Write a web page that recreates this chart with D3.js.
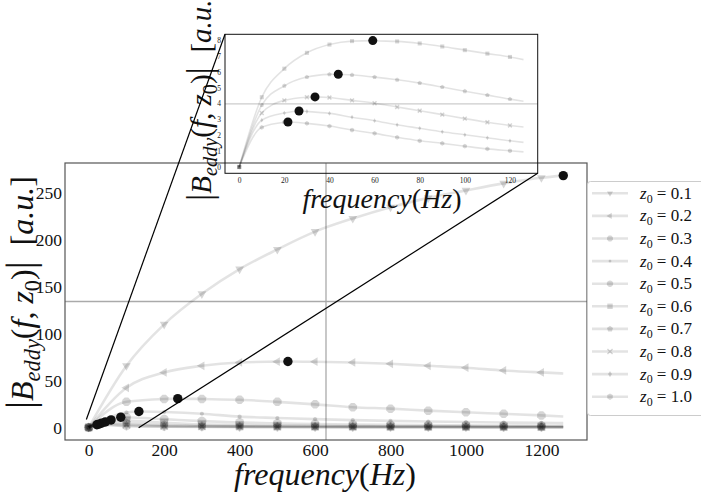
<!DOCTYPE html>
<html>
<head>
<meta charset="utf-8">
<script src="https://cdn.jsdelivr.net/npm/d3@7"></script>
<style>
  body { margin: 0; background: #fff; }
  text { font-family: "Liberation Serif", "DejaVu Serif", serif; }
</style>
</head>
<body>
<div id="chart"></div>
<script>
// Size of the picture
const width = 701;
const height = 492;

// z0 of every series and the marker used for it
const zValues = [0.1, 0.2, 0.3, 0.4, 0.5, 0.6, 0.7, 0.8, 0.9, 1.0];
const markerTypes = ["v", "<", "8", ".", "o", "s", "p", "x", "d", "h"];

// Main plot: frequency grid (Hz) and |B_eddy| for every z0
const freqMain = [0, 100, 200, 300, 400, 500, 600, 700, 800, 900, 1000, 1100, 1200, 1258];
const bMain01 = [0, 65.8, 110, 142.6, 169, 190, 209, 223, 235, 245, 253, 260.5, 266.5, 268.8];
const bMain02 = [0, 42.3, 58.7, 65.8, 69.3, 70.2, 70.1, 69.3, 67.9, 65.8, 63.7, 60.8, 58.7, 57.6];
const bMain03 = [0, 27.3, 30.4, 30.3, 29.5, 27.3, 24.6, 21.6, 20, 17.9, 16.1, 14.5, 12.8, 11.7];
const bMain04 = [0, 16.0, 16.4, 14.6, 11.5, 10.1, 8.8, 7.8, 7.0, 6.3, 5.7, 5.2, 4.8, 4.6];
const bMain05 = [0, 10.8, 8.8, 6.7, 5.2, 4.3, 3.6, 3.1, 2.7, 2.4, 2.2, 2.0, 1.8, 1.75];
const bMain06 = [0, 7.37, 5.0, 3.2, 2.4, 2.0, 1.7, 1.5, 1.3, 1.2, 1.1, 1.0, 0.92, 0.88];
const bMain07 = [0, 4.78, 2.6, 1.75, 1.35, 1.1, 0.95, 0.83, 0.74, 0.67, 0.61, 0.56, 0.52, 0.5];
const bMain08 = [0, 3.05, 1.65, 1.1, 0.85, 0.7, 0.6, 0.52, 0.46, 0.41, 0.37, 0.34, 0.31, 0.3];
const bMain09 = [0, 2.03, 1.05, 0.72, 0.55, 0.45, 0.38, 0.33, 0.29, 0.26, 0.24, 0.22, 0.2, 0.19];
const bMain10 = [0, 1.31, 0.7, 0.48, 0.37, 0.3, 0.25, 0.22, 0.19, 0.17, 0.16, 0.14, 0.13, 0.125];
const peakFreqMain = [1258, 528, 236, 133, 85, 59.2, 43.9, 33.6, 26.5, 21.6];
const peakBMain = [268.8, 70.4, 30.7, 17.0, 10.9, 7.97, 5.85, 4.42, 3.53, 2.84];

// Inset: low frequency zoom, only z0 = 0.6 .. 1.0
const freqZoom = [0, 10, 20, 30, 40, 50, 60, 70, 80, 90, 100, 110, 120, 126];
const bZoom06 = [0, 4.4, 6.2, 7.2, 7.72, 7.94, 7.96, 7.92, 7.79, 7.6, 7.37, 7.15, 6.94, 6.77];
const bZoom07 = [0, 3.9, 5.12, 5.67, 5.84, 5.8, 5.67, 5.5, 5.29, 5.04, 4.78, 4.53, 4.28, 4.15];
const bZoom08 = [0, 3.4, 4.2, 4.4, 4.38, 4.2, 4.02, 3.78, 3.55, 3.3, 3.05, 2.82, 2.62, 2.52];
const bZoom09 = [0, 2.95, 3.4, 3.5, 3.38, 3.14, 2.92, 2.66, 2.44, 2.22, 2.03, 1.84, 1.65, 1.55];
const bZoom10 = [0, 2.5, 2.82, 2.75, 2.58, 2.33, 2.12, 1.87, 1.65, 1.49, 1.31, 1.14, 1.02, 0.95];
const peakFreqZoom = [59.2, 43.9, 33.6, 26.5, 21.6];
const peakBZoom = [7.97, 5.85, 4.42, 3.53, 2.84];

// Tick labels
const xTicksMain = [0, 200, 400, 600, 800, 1000, 1200];
const yTicksMain = [0, 50, 100, 150, 200, 250];
const xTicksZoom = [0, 20, 40, 60, 80, 100, 120];
const yTicksZoom = [0, 1, 2, 3, 4, 5, 6, 7, 8];

const mainSeries = [bMain01, bMain02, bMain03, bMain04, bMain05, bMain06, bMain07, bMain08, bMain09, bMain10];
const zoomSeries = [bZoom06, bZoom07, bZoom08, bZoom09, bZoom10];

const lineColor = "rgba(0,0,0,0.11)";
const markColor = "rgba(0,0,0,0.16)";

const svg = d3.select("#chart")
    .append("svg")
    .attr("width", width)
    .attr("height", height)
    .style("opacity", 0.999); // grey text antialiasing

// matplotlib style 5% margins
function padded(ext) {
    const d = ext[1] - ext[0];
    return [ext[0] - 0.05 * d, ext[1] + 0.05 * d];
}

// marker shapes like matplotlib's
function polygon(n, r, rot) {
    const pts = d3.range(n).map(i => {
        const a = rot + i * 2 * Math.PI / n;
        return [r * Math.cos(a), r * Math.sin(a)];
    });
    return "M" + pts.map(p => p.join(",")).join("L") + "Z";
}
function markerPath(type, r) {
    switch (type) {
        case "v": return polygon(3, r * 1.1, Math.PI / 2);
        case "<": return polygon(3, r * 1.1, Math.PI);
        case "8": return polygon(8, r, Math.PI / 8);
        case ".": return polygon(12, r * 0.45, 0);
        case "o": return polygon(16, r, 0);
        case "s": return `M${-r * 0.85},${-r * 0.85}H${r * 0.85}V${r * 0.85}H${-r * 0.85}Z`;
        case "p": return polygon(5, r, -Math.PI / 2);
        case "x": return `M${-r * 0.8},${-r * 0.8}L${r * 0.8},${r * 0.8}M${-r * 0.8},${r * 0.8}L${r * 0.8},${-r * 0.8}`;
        case "d": return `M0,${-r}L${r * 0.6},0L0,${r}L${-r * 0.6},0Z`;
        case "h": return polygon(6, r, -Math.PI / 2);
    }
}
function drawMarker(g, type, cx, cy, r) {
    const p = g.append("path")
        .attr("d", markerPath(type, r))
        .attr("transform", `translate(${cx},${cy})`);
    if (type === "x") p.attr("fill", "none").attr("stroke", markColor).attr("stroke-width", 1.5);
    else p.attr("fill", markColor);
}

// text with italic / subscript parts, parts = [text, italic, sub, scale]
function mathText(textSel, parts, size) {
    let inSub = false;
    parts.forEach(([t, italic, sub, scale]) => {
        const fs = sub ? size * 0.7 : size * (scale || 1);
        const ts = textSel.append("tspan")
            .text(t)
            .style("font-style", italic ? "italic" : "normal")
            .attr("font-size", fs);
        if (sub && !inSub) ts.attr("dy", size * 0.22);
        if (!sub && inSub) ts.attr("dy", -size * 0.22);
        inSub = sub;
    });
}

// join a grid series with its peak point
function seriesPoints(freqs, values, pf, pb) {
    const pts = freqs.map((f, i) => [f, values[i]]);
    if (!freqs.includes(pf)) pts.push([pf, pb]);
    return pts.sort((a, b) => a[0] - b[0]);
}

// ---------------- main plot ----------------
const mainBox = { left: 65, right: 587, top: 163, bottom: 440 };

const x = d3.scaleLinear()
    .domain(padded([0, d3.max(freqMain)]))
    .range([mainBox.left, mainBox.right]);
const y = d3.scaleLinear()
    .domain(padded([0, d3.max(mainSeries.flat().concat(peakBMain))]))
    .range([mainBox.bottom, mainBox.top]);

const mainG = svg.append("g");

// guide lines at half of the data range
const maxB = d3.max(peakBMain);
const maxF = d3.max(freqMain);
mainG.append("line")
    .attr("x1", mainBox.left).attr("x2", mainBox.right)
    .attr("y1", y(maxB / 2)).attr("y2", y(maxB / 2))
    .attr("stroke", "#aaa").attr("stroke-width", 1.3);
mainG.append("line")
    .attr("x1", x(maxF / 2)).attr("x2", x(maxF / 2))
    .attr("y1", mainBox.top).attr("y2", mainBox.bottom)
    .attr("stroke", "#aaa").attr("stroke-width", 1.3);

const lineMain = d3.line()
    .x(d => x(d[0]))
    .y(d => y(d[1]))
    .curve(d3.curveMonotoneX);

mainSeries.forEach((vals, i) => {
    const pts = seriesPoints(freqMain, vals, peakFreqMain[i], peakBMain[i]);
    mainG.append("path")
        .attr("d", lineMain(pts))
        .attr("fill", "none")
        .attr("stroke", lineColor)
        .attr("stroke-width", 2.6);
    freqMain.slice(0, -1).forEach((f, j) => {
        drawMarker(mainG, markerTypes[i], x(f), y(vals[j]), 4.6);
    });
});

// peak dots
mainG.selectAll(".peak")
    .data(peakFreqMain)
    .enter().append("circle")
    .attr("cx", d => x(d))
    .attr("cy", (d, i) => y(peakBMain[i]))
    .attr("r", 4.7)
    .attr("fill", "#111");

// frame
mainG.append("rect")
    .attr("x", mainBox.left).attr("y", mainBox.top)
    .attr("width", mainBox.right - mainBox.left)
    .attr("height", mainBox.bottom - mainBox.top)
    .attr("fill", "none").attr("stroke", "#555").attr("stroke-width", 1.2);

// axes
const xAxis = mainG.append("g")
    .attr("transform", `translate(0,${mainBox.bottom})`)
    .call(d3.axisBottom(x).tickValues(xTicksMain).tickFormat(d3.format("d")).tickSize(0).tickPadding(4));
const yAxis = mainG.append("g")
    .attr("transform", `translate(${mainBox.left},0)`)
    .call(d3.axisLeft(y).tickValues(yTicksMain).tickFormat(d3.format("d")).tickSize(0).tickPadding(3));
[xAxis, yAxis].forEach(a => {
    a.select(".domain").remove();
    a.selectAll("text").attr("font-size", 17.5).attr("fill", "#111")
        .style("font-family", "'Liberation Serif', serif");
});

// axis labels
const xLabel = mainG.append("text")
    .attr("x", (mainBox.left + mainBox.right) / 2 - 1)
    .attr("y", 485)
    .attr("text-anchor", "middle")
    .attr("fill", "#111");
mathText(xLabel, [["frequency", true], ["(", false], ["Hz", true], [")", false]], 32);

const yLabel = mainG.append("text")
    .attr("transform", "translate(33,409) rotate(-90)")
    .attr("fill", "#111");
mathText(yLabel, [
    ["|", false, false, 1.25], ["B", true], ["eddy", true, true], ["(", false], ["f", true],
    [",\u00a0", false], ["z", true], ["0", false, true], [")", false], ["|", false, false, 1.25],
    ["\u00a0\u00a0[", false], ["a.u.", true], ["]", false]
], 32);

// ---------------- inset ----------------
const zoomBox = { left: 225, right: 537.7, top: 34.3, bottom: 173.3 };

const xz = d3.scaleLinear()
    .domain(padded([0, d3.max(freqZoom)]))
    .range([zoomBox.left, zoomBox.right]);
const yz = d3.scaleLinear()
    .domain(padded([0, d3.max(zoomSeries.flat().concat(peakBZoom))]))
    .range([zoomBox.bottom, zoomBox.top]);

const zoomG = svg.append("g");

zoomG.append("line")
    .attr("x1", zoomBox.left).attr("x2", zoomBox.right)
    .attr("y1", yz(d3.max(peakBZoom) / 2)).attr("y2", yz(d3.max(peakBZoom) / 2))
    .attr("stroke", "#ccc").attr("stroke-width", 1.2);

const lineZoom = d3.line()
    .x(d => xz(d[0]))
    .y(d => yz(d[1]))
    .curve(d3.curveMonotoneX);

zoomSeries.forEach((vals, i) => {
    const pts = seriesPoints(freqZoom, vals, peakFreqZoom[i], peakBZoom[i]);
    zoomG.append("path")
        .attr("d", lineZoom(pts))
        .attr("fill", "none")
        .attr("stroke", lineColor)
        .attr("stroke-width", 1.6);
    freqZoom.slice(0, -1).forEach((f, j) => {
        drawMarker(zoomG, markerTypes[i + 5], xz(f), yz(vals[j]), 2.4);
    });
});

zoomG.selectAll(".peak")
    .data(peakFreqZoom)
    .enter().append("circle")
    .attr("cx", d => xz(d))
    .attr("cy", (d, i) => yz(peakBZoom[i]))
    .attr("r", 4.5)
    .attr("fill", "#111");

zoomG.append("rect")
    .attr("x", zoomBox.left).attr("y", zoomBox.top)
    .attr("width", zoomBox.right - zoomBox.left)
    .attr("height", zoomBox.bottom - zoomBox.top)
    .attr("fill", "none").attr("stroke", "#111").attr("stroke-width", 1);

const yzLabel = zoomG.append("text")
    .attr("transform", "translate(211,201) rotate(-90)")
    .attr("fill", "#111");
mathText(yzLabel, [
    ["|", false, false, 1.25], ["B", true], ["eddy", true, true], ["(", false], ["f", true],
    [",\u00a0", false], ["z", true], ["0", false, true], [")", false], ["|", false, false, 1.25],
    ["\u00a0\u00a0[", false], ["a.u.", true], ["]", false]
], 29);

const xzAxis = zoomG.append("g")
    .attr("transform", `translate(0,${zoomBox.bottom})`)
    .call(d3.axisBottom(xz).tickValues(xTicksZoom).tickSize(0).tickPadding(4));
const yzAxis = zoomG.append("g")
    .attr("transform", `translate(${zoomBox.left},0)`)
    .call(d3.axisLeft(yz).tickValues(yTicksZoom).tickSize(0).tickPadding(4));
[xzAxis, yzAxis].forEach(a => {
    a.select(".domain").remove();
    a.selectAll("text").attr("font-size", 7.5).attr("fill", "#222")
        .style("font-family", "'Liberation Serif', serif");
});

const xzLabel = zoomG.append("text")
    .attr("x", 382).attr("y", 208)
    .attr("text-anchor", "middle")
    .attr("fill", "#111");
mathText(xzLabel, [["frequency", true], ["(", false], ["Hz", true], [")", false]], 28);

// connector lines between the zoomed region and the inset
svg.append("line")
    .attr("x1", x(xz.domain()[0])).attr("y1", y(yz.domain()[1]))
    .attr("x2", zoomBox.left).attr("y2", zoomBox.top)
    .attr("stroke", "#000").attr("stroke-width", 1.2);
svg.append("line")
    .attr("x1", x(xz.domain()[1])).attr("y1", y(yz.domain()[0]))
    .attr("x2", zoomBox.right).attr("y2", zoomBox.bottom)
    .attr("stroke", "#000").attr("stroke-width", 1.2);

// ---------------- legend ----------------
const legend = svg.append("g");
legend.append("rect")
    .attr("x", 587.5).attr("y", 181.5)
    .attr("width", 125).attr("height", 234)
    .attr("rx", 3)
    .attr("fill", "rgba(255,255,255,0.85)")
    .attr("stroke", "#ccc");

zValues.forEach((z, i) => {
    const ly = 193.3 + i * 22.6;
    legend.append("line")
        .attr("x1", 592).attr("x2", 628)
        .attr("y1", ly).attr("y2", ly)
        .attr("stroke", lineColor).attr("stroke-width", 2.6);
    drawMarker(legend, markerTypes[i], 610, ly, 3.2);
    const t = legend.append("text")
        .attr("x", 640).attr("y", ly + 5.5)
        .attr("fill", "#111");
    mathText(t, [["z", true], ["0", false, true], ["\u00a0=\u00a0" + z.toFixed(1), false]], 17);
});
</script>
</body>
</html>
